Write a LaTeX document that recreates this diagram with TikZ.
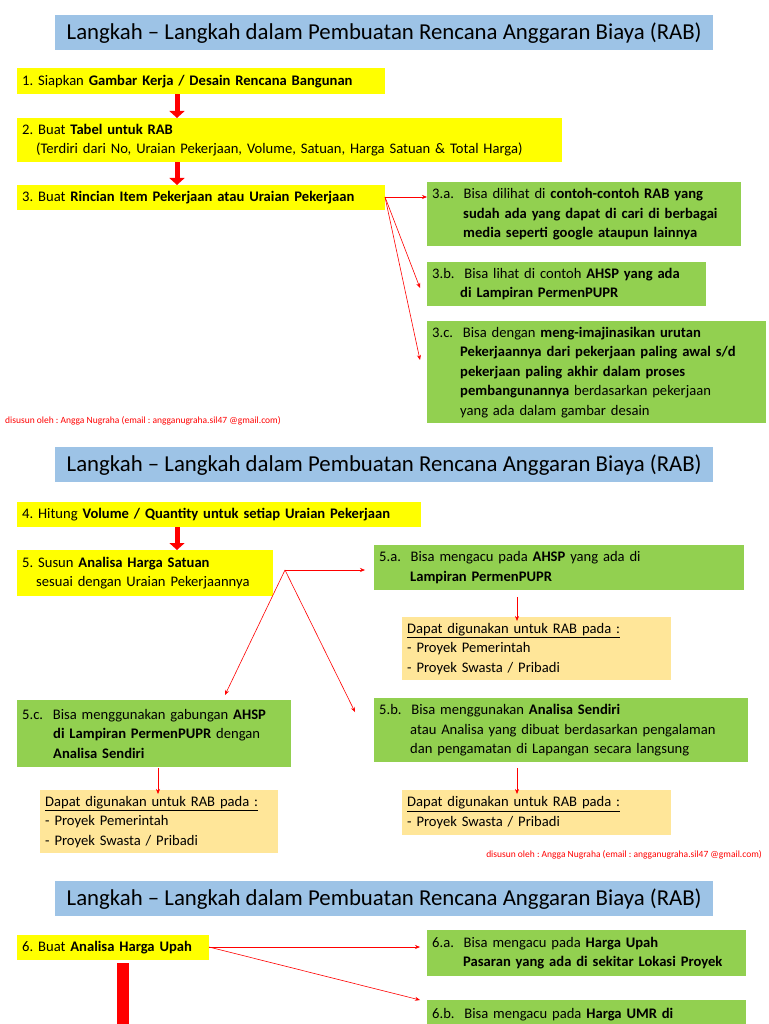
\documentclass[tikz,border=0pt]{standalone}
\usepackage{fontspec}
\setmainfont{Carlito}
\usetikzlibrary{arrows.meta}
\definecolor{ylw}{HTML}{FFFF00}
\definecolor{grn}{HTML}{92D050}
\definecolor{blu}{HTML}{9DC3E6}
\definecolor{org}{HTML}{FFE699}
\definecolor{rd}{HTML}{FF0000}
\newcommand\mybox[7]{%
 \node[box,fill=#6,minimum width=#4pt,minimum height=#5pt,text width=#4pt-10pt] (#1) at (#2,#3) {#7};}
\newcommand\ind[1]{\\\hspace*{#1pt}}
\frenchspacing
\begin{document}
\frenchspacing
\begin{tikzpicture}[x=1pt,y=-1pt,
 box/.style={anchor=north west,inner sep=5pt,align=left,font=\fontsize{14.6}{19.5}\selectfont\frenchspacing},
 title/.style={anchor=north west,fill=blu,minimum width=658pt,minimum height=35pt,inner sep=0pt,font=\fontsize{22.8}{26}\selectfont},
 thin/.style={draw=rd,line width=0.6pt,-{Stealth[length=5pt,width=4pt]}},
 thick/.style={draw=rd,line width=5pt,-{Triangle[length=7pt,width=15pt]}},
 foot/.style={text=rd,font=\fontsize{9.5}{10}\selectfont\frenchspacing,inner sep=0pt}]
\useasboundingbox (0,0) rectangle (768,1024);
% ---------- page 1
\node[title] (t1) at (55,15) {Langkah -- Langkah dalam Pembuatan Rencana Anggaran Biaya (RAB)};
\mybox{b1}{17}{68}{368}{26}{ylw}{1. Siapkan \textbf{Gambar Kerja / Desain Rencana Bangunan}}
\mybox{b2}{17}{118}{545}{44}{ylw}{2. Buat \textbf{Tabel untuk RAB}\ind{14}(Terdiri dari No, Uraian Pekerjaan, Volume, Satuan, Harga Satuan \& Total Harga)}
\mybox{b3}{17}{185}{368}{25}{ylw}{3. Buat \textbf{Rincian Item Pekerjaan atau Uraian Pekerjaan}}
\mybox{a3}{427}{182}{314}{64}{grn}{3.a.\ \ Bisa dilihat di \textbf{contoh-contoh RAB yang}\ind{31}\textbf{sudah ada yang dapat di cari di berbagai}\ind{31}\textbf{media seperti google ataupun lainnya}}
\mybox{b3b}{427}{262}{279}{44}{grn}{3.b.\ \ Bisa lihat di contoh \textbf{AHSP yang ada}\ind{28}\textbf{di Lampiran PermenPUPR}}
\mybox{c3}{427}{321}{339}{102}{grn}{3.c.\ \ Bisa dengan \textbf{meng-imajinasikan urutan}\ind{28}\textbf{Pekerjaannya dari pekerjaan paling awal s/d}\ind{28}\textbf{pekerjaan paling akhir dalam proses}\ind{28}\textbf{pembangunannya} berdasarkan pekerjaan\ind{28}yang ada dalam gambar desain}
\coordinate (s3) at (385,197);
\draw[thin] (s3) -- (a3.west|-s3);
\draw[thin] (s3) -- ([xshift=-7pt]b3b.west|-0,288);
\draw[thin] (s3) -- ([xshift=-7pt]c3.west|-0,360);
\draw[thick] (b1.south-|177,0) -- (b2.north-|177,0);
\draw[thick] (b2.south-|177,0) -- (b3.north-|177,0);
\node[foot,anchor=west] (f1) at (5,421) {disusun oleh : Angga Nugraha (email : angganugraha.sil47 @gmail.com)};
% ---------- page 2
\node[title] (t2) at (55,447) {Langkah -- Langkah dalam Pembuatan Rencana Anggaran Biaya (RAB)};
\mybox{b4}{17}{502}{404}{25}{ylw}{4. Hitung \textbf{Volume / Quantity untuk setiap Uraian Pekerjaan}}
\mybox{b5}{17}{550}{256}{46}{ylw}{5. Susun \textbf{Analisa Harga Satuan}\ind{14}sesuai dengan Uraian Pekerjaannya}
\draw[thick] (b4.south-|177,0) -- (b5.north-|177,0);
\mybox{a5}{374}{545}{370}{45}{grn}{5.a.\ \ Bisa mengacu pada \textbf{AHSP} yang ada di\ind{31}\textbf{Lampiran PermenPUPR}}
\mybox{n5a}{402}{617}{269}{63}{org}{\underline{Dapat digunakan untuk RAB pada :}\\- Proyek Pemerintah\\- Proyek Swasta / Pribadi}
\mybox{c5}{17}{700}{274}{67}{grn}{5.c.\ \ Bisa menggunakan gabungan \textbf{AHSP}\ind{31}\textbf{di Lampiran PermenPUPR} dengan\ind{31}\textbf{Analisa Sendiri}}
\mybox{b5b}{374}{698}{374}{64}{grn}{5.b.\ \ Bisa menggunakan \textbf{Analisa Sendiri}\ind{31}atau Analisa yang dibuat berdasarkan pengalaman\ind{31}dan pengamatan di Lapangan secara langsung}
\mybox{n5c}{40}{790}{238}{63}{org}{\underline{Dapat digunakan untuk RAB pada :}\\- Proyek Pemerintah\\- Proyek Swasta / Pribadi}
\mybox{n5b}{402}{790}{269}{45}{org}{\underline{Dapat digunakan untuk RAB pada :}\\- Proyek Swasta / Pribadi}
\coordinate (s5) at (285,570);
\draw[thin] (s5) -- ([xshift=-9pt]a5.west|-s5);
\draw[thin] (s5) -- (225,695);
\draw[thin] (s5) -- (355,712);
\draw[thin] ([yshift=-7pt]a5.south-|517,0) -- ([yshift=-4pt]n5a.north-|517,0);
\draw[thin] ([yshift=-1pt]c5.south-|158,0) -- ([yshift=-4pt]n5c.north-|158,0);
\draw[thin] ([yshift=-6pt]b5b.south-|517,0) -- ([yshift=-4pt]n5b.north-|517,0);
\node[foot,anchor=east] (f2) at (762,855) {disusun oleh : Angga Nugraha (email : angganugraha.sil47 @gmail.com)};
% ---------- page 3
\node[title] (t3) at (55,881) {Langkah -- Langkah dalam Pembuatan Rencana Anggaran Biaya (RAB)};
\mybox{b6}{17}{935}{192}{25}{ylw}{6. Buat \textbf{Analisa Harga Upah}}
\mybox{a6}{427}{930}{319}{46}{grn}{6.a.\ \ Bisa mengacu pada \textbf{Harga Upah}\ind{31}\textbf{Pasaran yang ada di sekitar Lokasi Proyek}}
\mybox{b6b}{427}{1000}{319}{46}{grn}{6.b.\ \ Bisa mengacu pada \textbf{Harga UMR di}\ind{31}\phantom{x}}
\coordinate (s6) at (209,947);
\draw[thin] (s6) -- ([xshift=-7pt]a6.west|-s6);
\draw[thin] (s6) -- (420,1000);
\fill[rd] (117,963) rectangle (129,1030);
\end{tikzpicture}
\end{document}
